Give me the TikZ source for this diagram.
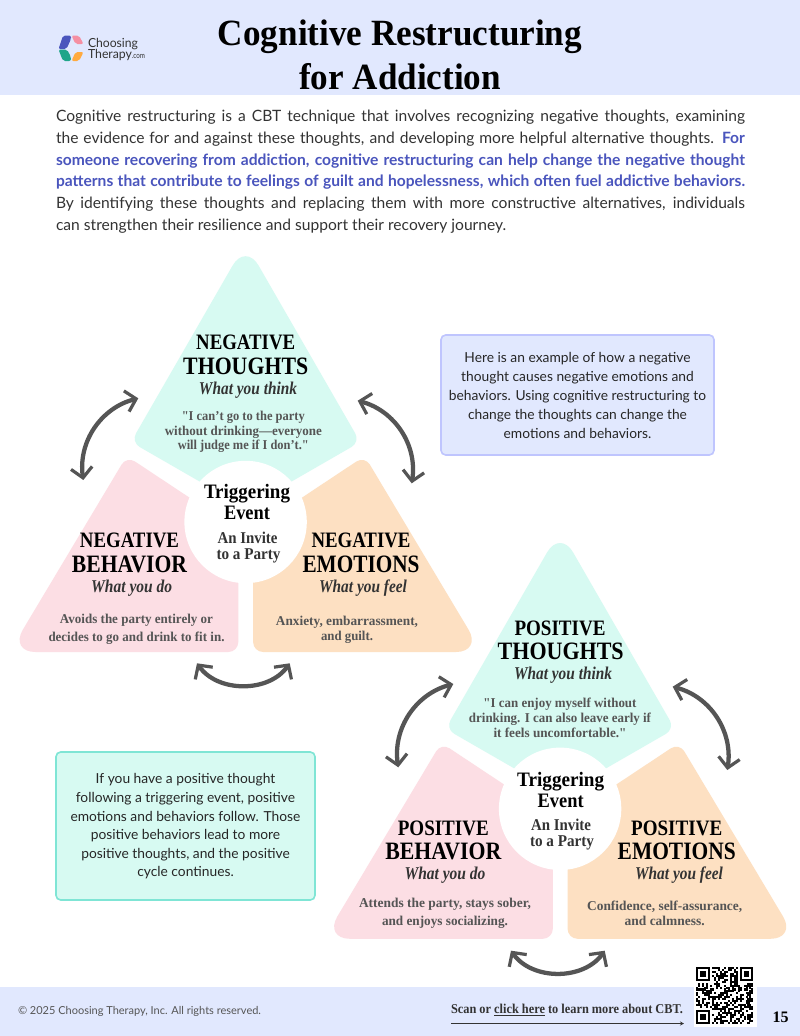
\documentclass[tikz,border=0pt]{standalone}
\usepackage{fontspec}
\usepackage{graphicx}
\usetikzlibrary{arrows.meta}
\setmainfont{Lato}
\newfontfamily\hd{Liberation Serif}
\newlength{\pxu}\setlength{\pxu}{0.75pt}
\newcommand{\fitx}[2]{\resizebox{#1\pxu}{\height}{#2}}
\newcommand{\fsz}[2]{\fontsize{#1\pxu}{#2\pxu}\selectfont}
\definecolor{band}{HTML}{E1E8FE}
\definecolor{mint}{HTML}{D7FAF2}
\definecolor{pinkf}{HTML}{FCDEE4}
\definecolor{peach}{HTML}{FDE0C2}
\definecolor{ink}{HTML}{333333}
\definecolor{accent}{HTML}{4A55BD}
\definecolor{sub}{HTML}{555555}
\definecolor{arrowc}{HTML}{555555}
\definecolor{logopink}{HTML}{F58FA3}
\definecolor{logoteal}{HTML}{1FA58A}
\definecolor{logoorange}{HTML}{FFAA40}
\definecolor{greenline}{HTML}{7FE5D5}
\tikzset{
  x=0.75pt,y=-0.75pt,
  txt/.style={inner sep=0pt,outer sep=0pt},
  headA/.style={txt,anchor=base,font=\hd\bfseries\fsz{22}{24},text=black},
  headB/.style={txt,anchor=base,font=\hd\bfseries\fsz{25}{27},text=black},
  what/.style={txt,anchor=base,font=\hd\bfseries\itshape\fsz{18}{20},text=ink},
  quote/.style={txt,align=center,font=\hd\bfseries\fsz{13.5}{14.7},text=sub},
  quoteB/.style={txt,align=center,font=\hd\bfseries\fsz{13.5}{18},text=sub},
  trig/.style={txt,align=center,font=\hd\bfseries\fsz{20.5}{20},text=black},
  inv/.style={txt,align=center,font=\hd\bfseries\fsz{16.5}{18},text=ink},
  dbl/.style={line width=3.2pt,draw=arrowc,{Straight Barb[length=7.5pt,width=16pt,line width=2.4pt]}-{Straight Barb[length=7.5pt,width=16pt,line width=2.4pt]}},
  infobox/.style={rounded corners=3.5pt,line width=1.2pt},
  infotxt/.style={txt,align=center,font=\fsz{13.8}{18.9},text=black!85},
}
\begin{document}
\begin{tikzpicture}
\useasboundingbox (0,0) rectangle (800,1036);
\fill[white] (0,0) rectangle (800,1036);
% bands
\fill[band] (0,0) rectangle (800,95);
\fill[band] (0,987) rectangle (800,1036);
% logo
\fill[accent,rounded corners=1.5pt] (58.5,49) -- (63,35.5) -- (71,35.5) -- (71,39) -- (66.5,49) -- cycle;
\fill[logopink,rounded corners=1.5pt] (71.5,35.5) -- (79,35.5) -- (83.5,44) -- (75.5,44) -- cycle;
\fill[logoteal,rounded corners=1.5pt] (58.5,49.5) -- (67,49.5) -- (71,57) -- (71,61) -- (63,61) -- cycle;
\fill[logoorange,rounded corners=1.5pt] (75.5,52) -- (83.5,52) -- (79,61) -- (71.5,61) -- cycle;
\node[txt,anchor=base west,font=\fsz{12.5}{13},text=ink] (logoa) at (88,47) {\fitx{50}{Choosing}};
\node[txt,anchor=base west,font=\fsz{12.5}{13},text=ink] (logob) at (88,58.5) {\fitx{44}{Therapy}\fsz{8}{8}\fitx{13}{.com}};
% title
\node[txt,anchor=base,font=\hd\bfseries\fsz{37}{40},text=black] (t1) at (400,45) {\fitx{364}{Cognitive Restructuring}};
\node[txt,anchor=base,font=\hd\bfseries\fsz{37}{40},text=black] (t2) at (400,89) {\fitx{202}{for Addiction}};
% intro
\node[txt,anchor=north west,text width=689\pxu,align=justify,font=\fsz{15.6}{21.65},text=ink] (intro) at (56,110.5) {%
Cognitive restructuring is a CBT technique that involves recognizing negative thoughts, examining\linebreak
the evidence for and against these thoughts, and developing more helpful alternative thoughts. \textcolor{accent}{\bfseries For\linebreak
someone recovering from addiction, cognitive restructuring can help change the negative thought\linebreak
patterns that contribute to feelings of guilt and hopelessness, which often fuel addictive behaviors.}\linebreak
By identifying these thoughts and replacing them with more constructive alternatives, individuals\linebreak
can strengthen their resilience and support their recovery journey.};
% info boxes
\draw[infobox,fill=band,draw=band!85!blue] (441,335) rectangle (714,455);
\node[infotxt] (info1) at (577.5,395.5) {Here is an example of how a negative\\thought causes negative emotions and\\behaviors. Using cognitive restructuring to\\change the thoughts can change the\\emotions and behaviors.};
\draw[infobox,fill=mint,draw=greenline] (56,752) rectangle (315,900);
\node[infotxt,font=\fsz{13.8}{18.6}] (info2) at (185.5,826.5) {If you have a positive thought\\following a triggering event, positive\\emotions and behaviors follow. Those\\positive behaviors lead to more\\positive thoughts, and the positive\\cycle continues.};
% negative cycle
\begin{scope}
\fill[mint] (245.6,508) [rounded corners=7.5pt] -- (131,442) [rounded corners=19.5pt] -- (245.6,243) [rounded corners=7.5pt] -- (360.2,442) [sharp corners] -- cycle;
\fill[pinkf] (238.3,530) [rounded corners=7.5pt] -- (126.7,456) [rounded corners=19.5pt] -- (9.5,652) [rounded corners=7.5pt] -- (238.3,652) [sharp corners] -- cycle;
\fill[peach] (253.1,530) [rounded corners=7.5pt] -- (364.7,456) [rounded corners=19.5pt] -- (481.9,652) [rounded corners=7.5pt] -- (253.1,652) [sharp corners] -- cycle;
\fill[white] (245.6,522) circle (61.2);
\end{scope}
\node[headA] (nta) at (245.7,349.3) {\fitx{99}{NEGATIVE}};
\node[headB] (ntb) at (245.7,374) {\fitx{125}{THOUGHTS}};
\node[what] (ntc) at (248,394) {\fitx{98}{What you think}};
\node[quote] (ntd) at (243.3,432) {\fitx{123}{"I can’t go to the party}\\\fitx{157}{without drinking—everyone}\\\fitx{131}{will judge me if I don’t."}};
\node[trig] (nea) at (247,493.5) {\fitx{86}{Triggering}};
\node[trig] (neb) at (247,512.5) {\fitx{46}{Event}};
\node[inv] (nec) at (247.5,537.5) {\fitx{60}{An Invite}};
\node[inv] (ned) at (248.5,555.5) {\fitx{64}{to a Party}};
\node[headA] (nba) at (129.5,547.5) {\fitx{99}{NEGATIVE}};
\node[headB] (nbb) at (129.5,572) {\fitx{115}{BEHAVIOR}};
\node[what] (nbc) at (131.7,592.5) {\fitx{81}{What you do}};
\node[quoteB] (nbd) at (136.5,629) {\fitx{153}{Avoids the party entirely or}\\\fitx{176}{decides to go and drink to fit in.}};
\node[headA] (nma) at (361,547.5) {\fitx{99}{NEGATIVE}};
\node[headB] (nmb) at (361,572) {\fitx{117}{EMOTIONS}};
\node[what] (nmc) at (363,592.5) {\fitx{88}{What you feel}};
\node[quote] (nmd) at (347,630) {\fitx{142}{Anxiety, embarrassment,}\\\fitx{52}{and guilt.}};
% negative arrows
\coordinate (n1) at (138.3,398.3);
\coordinate (n2) at (83.3,480);
\coordinate (n3) at (357.7,400.7);
\coordinate (n4) at (411.7,483.3);
\coordinate (n5) at (197,663.3);
\coordinate (n6) at (289.7,663.3);
\draw[dbl] (n1) to[bend right=42] (n2);
\draw[dbl] (n3) to[bend left=42] (n4);
\draw[dbl] (n5) to[bend right=55] (n6);
% positive cycle
\begin{scope}[shift={(314.5,286.8)}]
\fill[mint] (245.6,508) [rounded corners=7.5pt] -- (131,442) [rounded corners=19.5pt] -- (245.6,243) [rounded corners=7.5pt] -- (360.2,442) [sharp corners] -- cycle;
\fill[pinkf] (238.3,530) [rounded corners=7.5pt] -- (126.7,456) [rounded corners=19.5pt] -- (9.5,652) [rounded corners=7.5pt] -- (238.3,652) [sharp corners] -- cycle;
\fill[peach] (253.1,530) [rounded corners=7.5pt] -- (364.7,456) [rounded corners=19.5pt] -- (481.9,652) [rounded corners=7.5pt] -- (253.1,652) [sharp corners] -- cycle;
\fill[white] (245.6,522) circle (61.2);
\end{scope}
\node[headA] (pta) at (560,635) {\fitx{91}{POSITIVE}};
\node[headB] (ptb) at (560.7,659) {\fitx{126}{THOUGHTS}};
\node[what] (ptc) at (563,679) {\fitx{98}{What you think}};
\node[quote] (ptd) at (560,718) {\fitx{153}{"I can enjoy myself without}\\\fitx{182}{drinking. I can also leave early if}\\\fitx{133}{it feels uncomfortable."}};
\node[trig] (pea) at (560.7,781.5) {\fitx{87}{Triggering}};
\node[trig] (peb) at (560.7,800.5) {\fitx{46}{Event}};
\node[inv] (pec) at (561,825) {\fitx{60}{An Invite}};
\node[inv] (ped) at (562,843) {\fitx{64}{to a Party}};
\node[headA] (pba) at (443.3,835) {\fitx{91}{POSITIVE}};
\node[headB] (pbb) at (443.3,859.5) {\fitx{116}{BEHAVIOR}};
\node[what] (pbc) at (445,879) {\fitx{81}{What you do}};
\node[quoteB] (pbd) at (445,913.5) {\fitx{172}{Attends the party, stays sober,}\\\fitx{126}{and enjoys socializing.}};
\node[headA] (pma) at (676.7,835) {\fitx{91}{POSITIVE}};
\node[headB] (pmb) at (676.7,859.5) {\fitx{118}{EMOTIONS}};
\node[what] (pmc) at (679,879) {\fitx{88}{What you feel}};
\node[quote] (pmd) at (664.7,913) {\fitx{155}{Confidence, self-assurance,}\\\fitx{80}{and calmness.}};
% positive arrows
\coordinate (p1) at (453.3,684);
\coordinate (p2) at (398.3,767.3);
\coordinate (p3) at (672.7,686.7);
\coordinate (p4) at (727.3,770);
\coordinate (p5) at (511,950.7);
\coordinate (p6) at (604.7,950.7);
\draw[dbl] (p1) to[bend right=42] (p2);
\draw[dbl] (p3) to[bend left=42] (p4);
\draw[dbl] (p5) to[bend right=55] (p6);
% footer
\node[txt,anchor=base west,font=\fsz{11}{13},text=sub] (copy) at (18,1014) {© 2025 Choosing Therapy, Inc. All rights reserved.};
\node[txt,anchor=base west,font=\hd\bfseries\fsz{13.5}{14},text=ink] (scan) at (451,1013.5) {\fitx{232}{Scan or \underline{click here} to learn more about CBT.}};
\coordinate (la) at (451,1023.5);
\coordinate (lb) at (684,1023.5);
\draw[line width=0.9pt,ink,-{Stealth[length=3pt,width=3pt]}] (la) -- (lb);
\node[txt,anchor=base,font=\hd\bfseries\fsz{16}{18},text=black] (pg) at (780.7,1022) {15};
% QR
\fill[white] (694,964.3) rectangle (756.7,1026.7);
\pgfmathsetseed{1507}
\begin{scope}[shift={(696,966.7)},x=1.485pt,y=-1.485pt]
\foreach \i in {0,...,28}{\foreach \j in {0,...,28}{
  \pgfmathrandominteger{\rr}{0}{99}
  \pgfmathtruncatemacro{\inF}{((\i<8&&\j<8)||(\i>20&&\j<8)||(\i<8&&\j>20))?1:0}
  \ifnum\inF=0\ifnum\rr<52\fill[black] (\i,\j) rectangle +(1.02,1.02);\fi\fi
}}
\foreach \a/\b in {0/0,22/0,0/22}{
  \fill[black] (\a,\b) rectangle +(7,7);
  \fill[white] (\a+1,\b+1) rectangle +(5,5);
  \fill[black] (\a+2,\b+2) rectangle +(3,3);
}
\end{scope}
\end{tikzpicture}
\end{document}
